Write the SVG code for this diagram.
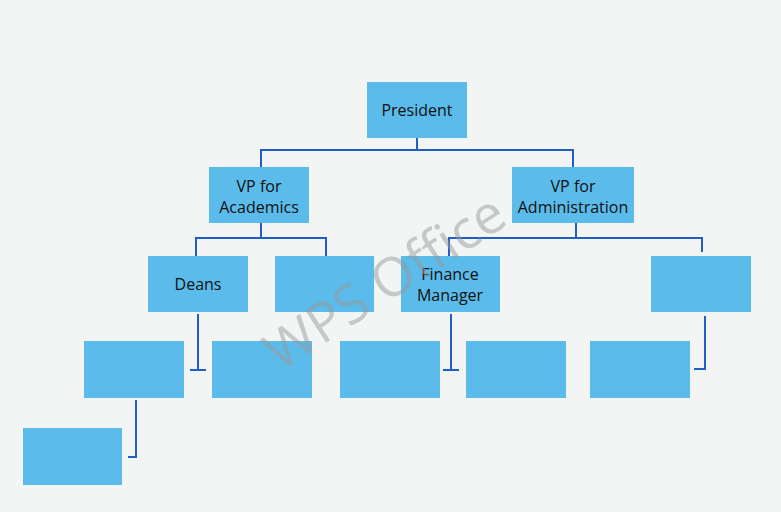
<svg xmlns="http://www.w3.org/2000/svg" width="781" height="512" viewBox="0 0 781 512">
<style>
.b{fill:#5bbbea}
.t{font-family:"Open Sans","Liberation Sans",sans-serif;font-size:16px;fill:#111;text-anchor:middle}
.c{stroke:#1e5fc8;stroke-width:2;fill:none}
</style>
<rect width="781" height="512" fill="#f2f5f4"/>
<g id="connectors" class="c">
<path d="M417 138V150M261 167V150H573V167"/>
<path d="M261 223V238M196 256V238H326V256"/>
<path d="M576 223V238M449 256V238H702V252"/>
<path d="M198 314V370M190 370H206"/>
<path d="M451 314V370M443 370H459"/>
<path d="M705 316V369H694"/>
<path d="M136 400V457H128"/>
</g>
<g id="president"><rect class="b" x="367" y="82" width="100" height="56"/><text class="t" x="417" y="116">President</text></g>
<g id="vp-academics"><rect class="b" x="209" y="167" width="100" height="56"/><text class="t" x="259" y="192">VP for</text><text class="t" x="259" y="213">Academics</text></g>
<g id="vp-admin"><rect class="b" x="512" y="167" width="122" height="56"/><text class="t" x="573" y="192">VP for</text><text class="t" x="573" y="213">Administration</text></g>
<g id="deans"><rect class="b" x="148" y="256" width="100" height="56"/><text class="t" x="198" y="290">Deans</text></g>
<g id="n3b"><rect class="b" x="275" y="256" width="99" height="56"/></g>
<g id="finance"><rect class="b" x="401" y="256" width="99" height="56"/><text class="t" x="450" y="280">Finance</text><text class="t" x="450" y="301">Manager</text></g>
<g id="n3d"><rect class="b" x="651" y="256" width="100" height="56"/></g>
<g id="n4a"><rect class="b" x="84" y="341" width="100" height="57"/></g>
<g id="n4b"><rect class="b" x="212" y="341" width="100" height="57"/></g>
<g id="n4c"><rect class="b" x="340" y="341" width="100" height="57"/></g>
<g id="n4d"><rect class="b" x="466" y="341" width="100" height="57"/></g>
<g id="n4e"><rect class="b" x="590" y="341" width="100" height="57"/></g>
<g id="n5"><rect class="b" x="23" y="428" width="99" height="57"/></g>
<text x="395" y="298" transform="rotate(-33 395 298)" font-family="Open Sans, Liberation Sans, sans-serif" font-size="54" fill="#999" fill-opacity="0.5" text-anchor="middle">WPS Office</text>
</svg>
